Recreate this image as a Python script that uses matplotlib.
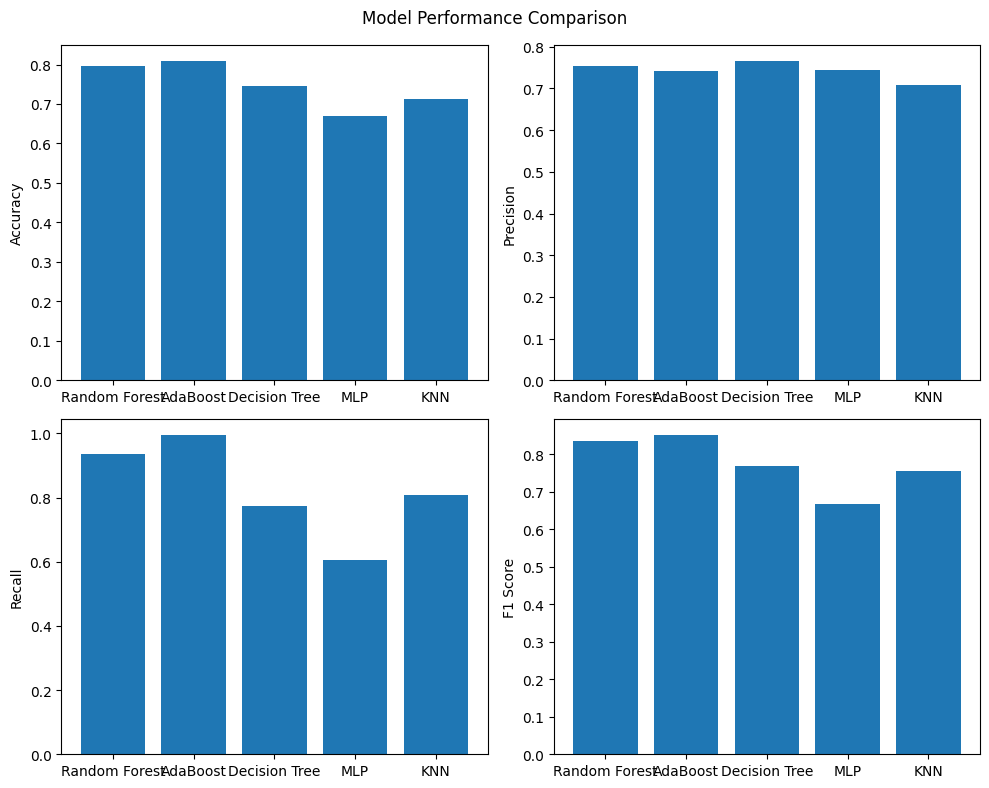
import matplotlib
matplotlib.use("Agg")
import matplotlib.pyplot as plt

models = ['Random Forest', 'AdaBoost', 'Decision Tree', 'MLP', 'KNN']
accuracy = [0.797, 0.809, 0.746, 0.670, 0.713]
precision = [0.754, 0.742, 0.766, 0.745, 0.709]
recall = [0.936, 0.995, 0.773, 0.604, 0.807]
f1_score = [0.836, 0.852, 0.770, 0.668, 0.756]

metrics = [
    ('Accuracy', accuracy),
    ('Precision', precision),
    ('Recall', recall),
    ('F1 Score', f1_score),
]

fig, axes = plt.subplots(2, 2, figsize=(10, 8), dpi=100)
fig.suptitle('Model Performance Comparison')

for ax, (name, vals) in zip(axes.flat, metrics):
    ax.bar(models, vals)
    ax.set_ylabel(name)

fig.tight_layout()
plt.savefig('out.png', dpi=100, bbox_inches='tight')
plt.close()
